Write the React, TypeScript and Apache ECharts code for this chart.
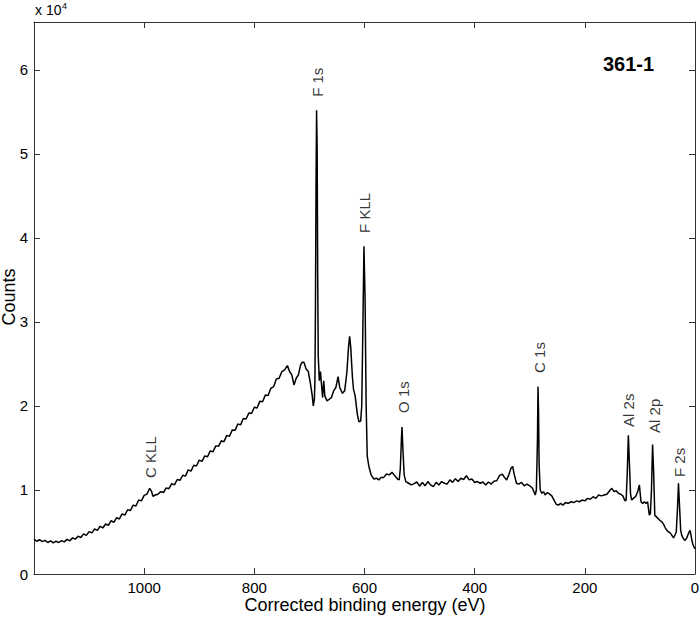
import React, { useEffect, useRef } from "react";
import * as echarts from "echarts";

// Binding energy (eV) and counts
const energy = [
  1200, 1195, 1190, 1185, 1180, 1175, 1170, 1165, 1160, 1155, 1150, 1145, 1140, 1135, 1130, 1125,
  1120, 1115, 1110, 1105, 1100, 1095, 1090, 1085, 1080, 1075, 1070, 1065, 1060, 1055, 1050, 1045,
  1040, 1035, 1030, 1025, 1020, 1015, 1010, 1005, 1000, 995, 990, 987, 984, 980, 975, 970, 965,
  960, 955, 950, 945, 940, 935, 930, 925, 920, 915, 910, 905, 900, 895, 890, 885, 880, 875, 870,
  865, 860, 855, 850, 845, 840, 835, 830, 825, 820, 815, 810, 805, 800, 795, 790, 785, 780, 775,
  770, 765, 760, 755, 750, 745, 740, 736, 732, 728, 724, 720, 716, 713, 710, 706, 702, 698, 695,
  693, 691, 690, 689, 688, 687, 686, 685, 684, 682, 680, 678, 676, 674, 672, 668, 664, 660, 656,
  652, 648, 645, 640, 636, 632, 629, 627, 625, 622, 620, 617, 613, 610, 607, 605, 603, 601, 599,
  597, 595, 592, 588, 583, 578, 574, 570, 565, 560, 555, 550, 545, 540, 537, 535, 533, 532, 530,
  528, 525, 520, 515, 510, 505, 500, 495, 490, 485, 480, 475, 470, 465, 460, 455, 450, 445, 440,
  435, 430, 425, 420, 415, 410, 405, 400, 395, 390, 385, 380, 375, 370, 365, 360, 355, 350, 346,
  342, 338, 334, 331, 328, 324, 320, 315, 310, 305, 300, 295, 290, 288, 286, 285, 284, 283, 281,
  278, 275, 272, 268, 264, 260, 256, 252, 248, 244, 240, 235, 230, 225, 220, 215, 210, 205, 200,
  195, 190, 185, 180, 175, 170, 165, 160, 155, 151, 147, 143, 139, 135, 131, 127, 125, 123, 121,
  119, 117, 115, 112, 108, 104, 101, 98, 95, 92, 89, 86, 83, 81, 79, 77, 75, 73, 70, 67, 64, 60,
  57, 54, 51, 48, 45, 42, 39, 36, 34, 32, 30, 28, 26, 24, 21, 18, 15, 12, 9, 7, 5, 3, 1, 0,
];

const counts = [
  4150, 3900, 4080, 3850, 4000, 3750, 3950, 3700, 3900, 3750, 3980, 3820, 4120, 3950, 4300, 4150,
  4500, 4350, 4780, 4600, 5050, 4900, 5350, 5200, 5680, 5480, 5950, 5800, 6350, 6150, 6700, 6550,
  7150, 7000, 7650, 7550, 8200, 8100, 8800, 8700, 9350, 9500, 10200, 9900, 9250, 9400, 9500, 9800, 9700,
  10250, 10150, 10750, 10600, 11250, 11150, 11750, 11650, 12400, 12250, 12950, 12850, 13550, 13400, 14050, 13950, 14650, 14550, 15250,
  15200, 15850, 15750, 16500, 16400, 17150, 17100, 17850, 17750, 18500, 18450, 19150, 19100, 19850, 19750, 20550, 20500, 21300, 21250,
  22100, 22300, 23200, 23300, 24100, 24300, 24800, 24100, 23700, 22500, 23300, 23700, 24900, 25200, 25200, 24400, 24100, 22600, 21300,
  20000, 20800, 23000, 32000, 46000, 55200, 51000, 36000, 26000, 23000, 24100, 22500, 21000, 23000, 21200, 20600, 20800, 21000, 21800,
  22200, 23500, 22200, 21500, 21800, 24000, 27000, 28300, 27000, 23500, 22000, 21200, 19000, 18100, 18200, 20000, 29000, 39000, 33000,
  20000, 14000, 12800, 11800, 11300, 11400, 11200, 11500, 11500, 11900, 11800, 12100, 11700, 11300, 11200, 12500, 16000, 17500, 14500,
  11800, 11000, 10800, 10600, 10750, 10950, 10450, 10900, 10500, 11000, 10600, 10400, 10900, 10600, 11000, 10800, 10700, 11200, 10900,
  11350, 11000, 11400, 11250, 11700, 11200, 11300, 10900, 11000, 10800, 10950, 10600, 10950, 10700, 11050, 11100, 11700, 11900, 11500,
  11200, 11800, 12600, 12800, 11800, 10800, 10700, 10900, 10500, 10700, 10500, 10200, 9400, 10000, 16000, 22300, 19000, 13000, 10000,
  9600, 9800, 9400, 9700, 9500, 9300, 8800, 8300, 8200, 8400, 8200, 8500, 8400, 8600, 8500, 8700, 8600, 8800, 8700,
  9000, 8900, 9200, 9000, 9400, 9300, 9400, 9500, 9900, 10200, 9800, 9900, 9600, 9500, 9300, 8700, 8800, 12000, 16500,
  13000, 9500, 8800, 9000, 9200, 9800, 10600, 8600, 8400, 8600, 8400, 8600, 7000, 7200, 10000, 15400, 12000, 7000, 6800, 6600, 6400, 6200,
  5900, 5500, 5200, 5000, 4900, 4600, 4300, 4700, 5000, 7500, 10800, 8000, 5200, 4600, 4200, 4000, 4300, 4800, 5200, 4500, 3800, 3400, 3100, 3000,
];

// Peak annotations: name, energy and count at the foot of each rotated label
const peakNames = ["C KLL", "F 1s", "F KLL", "O 1s", "C 1s", "Al 2s", "Al 2p", "F 2s"];
const peakLabelEnergy = [988, 685, 600, 529, 283, 120.5, 74, 28];
const peakLabelCounts = [11430, 56790, 40600, 19170, 23930, 17500, 16790, 11550];

const sampleName = "361-1";
const xTitle = "Corrected binding energy (eV)";
const yTitle = "Counts";

const FONT = "'Liberation Sans', Arial, Helvetica, sans-serif";

export default function App() {
  const ref = useRef<HTMLDivElement>(null);

  useEffect(() => {
    document.body.style.margin = "0";
    const chart = echarts.init(ref.current!, null, { renderer: "svg" });
    const axisColor = "#333";
    const baseX = {
      type: "value" as const,
      min: 0,
      max: 1200,
      interval: 200,
      inverse: true,
      splitLine: { show: false },
      axisLine: { show: true, onZero: false, lineStyle: { color: axisColor, width: 1 } },
      axisTick: { show: true, inside: true, length: 6, lineStyle: { color: axisColor } },
    };
    const baseY = {
      type: "value" as const,
      min: 0,
      max: 65700,
      interval: 10000,
      splitLine: { show: false },
      axisLine: { show: true, onZero: false, lineStyle: { color: axisColor, width: 1 } },
      axisTick: { show: true, inside: true, length: 6, lineStyle: { color: axisColor } },
    };
    chart.setOption({
      animation: false,
      grid: { left: 34, right: 5, top: 22, bottom: 44, containLabel: false, outerBoundsMode: "none" },
      xAxis: [
        {
          ...baseX,
          position: "bottom",
          axisLabel: {
            show: true,
            margin: 6,
            fontSize: 15,
            lineHeight: 15,
            color: "#000",
            fontFamily: FONT,
            formatter: (v: number) => (v === 1200 ? "" : String(v)),
          },
        },
        { ...baseX, position: "top", axisLabel: { show: false } },
      ],
      yAxis: [
        {
          ...baseY,
          position: "left",
          axisLabel: {
            show: true,
            margin: 6,
            fontSize: 15,
            color: "#000",
            fontFamily: FONT,
            formatter: (v: number) => (v % 10000 === 0 ? String(v / 10000) : ""),
          },
        },
        { ...baseY, position: "right", axisLabel: { show: false } },
      ],
      series: [
        {
          type: "line",
          data: energy.map((e, i) => [e, counts[i]]),
          showSymbol: false,
          symbol: "none",
          lineStyle: { color: "#000", width: 1.5 },
          silent: true,
        },
        {
          type: "scatter",
          data: peakNames.map((n, i) => ({ name: n, value: [peakLabelEnergy[i], peakLabelCounts[i]] })),
          symbolSize: 0,
          silent: true,
          itemStyle: { color: "#000" },
          label: {
            show: true,
            formatter: "{b}",
            position: "inside",
            rotate: 90,
            align: "left",
            verticalAlign: "middle",
            fontSize: 15,
            color: "#000",
            textBorderWidth: 0,
            textBorderColor: "transparent",
            fontFamily: FONT,
          },
        },
      ],
      graphic: [
        {
          type: "text",
          x: 365,
          y: 605,
          style: {
            text: xTitle,
            fontSize: 18,
            lineHeight: 18,
            fill: "#000",
            fontFamily: FONT,
            align: "center",
            verticalAlign: "middle",
          },
        },
        {
          type: "text",
          x: 8.5,
          y: 297,
          rotation: Math.PI / 2,
          style: {
            text: yTitle,
            fontSize: 18,
            lineHeight: 16,
            fill: "#000",
            fontFamily: FONT,
            align: "center",
            verticalAlign: "middle",
          },
        },
        {
          type: "text",
          left: 35,
          top: 3,
          style: { text: "x 10", fontSize: 14, fill: "#000", fontFamily: FONT },
        },
        {
          type: "text",
          left: 62,
          top: 1,
          style: { text: "4", fontSize: 9, fill: "#000", fontFamily: FONT },
        },
        {
          type: "text",
          left: 603,
          top: 54,
          style: { text: sampleName, fontSize: 20, fontWeight: "bold", fill: "#000", fontFamily: FONT },
        },
      ],
    });
    return () => chart.dispose();
  }, []);

  return (
    <div
      ref={ref}
      style={{ position: "absolute", left: 0, top: 0, width: 700, height: 618 }}
    />
  );
}
